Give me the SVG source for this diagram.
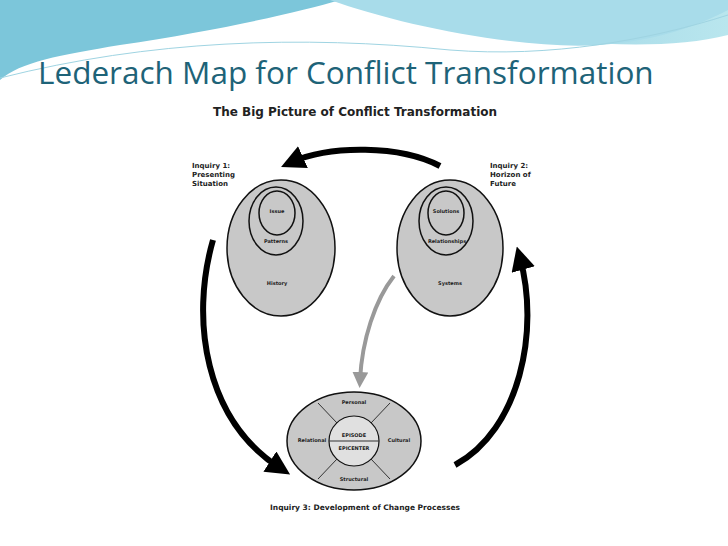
<svg xmlns="http://www.w3.org/2000/svg" width="728" height="546" viewBox="0 0 728 546">
<defs>
<linearGradient id="wave" x1="0" y1="0" x2="1" y2="0"><stop offset="0" stop-color="#6fc0d6"/><stop offset="0.5" stop-color="#8fcbe0"/><stop offset="1" stop-color="#b9e6ee"/></linearGradient>
<marker id="ah" viewBox="0 0 10 10" refX="5" refY="5" markerWidth="4" markerHeight="4" orient="auto"><path d="M0,0 L10,5 L0,10 Z" fill="#000"/></marker>
<marker id="gh" viewBox="0 0 10 10" refX="5" refY="5" markerWidth="4" markerHeight="4" orient="auto"><path d="M0,0 L10,5 L0,10 Z" fill="#999"/></marker>
</defs>
<style>
.t{font-family:"DejaVu Sans",sans-serif;font-weight:bold;fill:#222}
.s{font-size:5px;text-anchor:middle}
.e{fill:#c8c8c8;stroke:#111;stroke-width:1.5}
.ln{stroke:#333;stroke-width:1;fill:none}
</style>
<rect width="728" height="546" fill="#fff"/>
<path d="M0,0 H728 V35 C650,55 520,40 420,20 C380,12 350,5 330,0 Z" fill="url(#wave)"/>
<path d="M0,0 H340 C300,12 220,30 120,45 C60,55 20,62 0,80 Z" fill="#7cc6da"/>
<path d="M330,0 C400,25 520,50 600,45 C660,40 700,25 728,10 L728,0 Z" fill="#a8dcea"/>
<path d="M0,78 C150,40 300,35 450,50 C550,58 650,40 728,15" fill="none" stroke="#9fd4e2" stroke-width="1"/>
<text x="38" y="84" font-family="'Open Sans','Liberation Sans',sans-serif" font-size="31.5" fill="#1e6378">Lederach Map for Conflict Transformation</text>
<rect x="188" y="98" width="349" height="422" fill="#fff"/>
<text class="t" x="213" y="116" font-size="12">The Big Picture of Conflict Transformation</text>
<g id="inq1">
<text class="t" font-size="7" x="192" y="168">Inquiry 1:</text>
<text class="t" font-size="7" x="192" y="177">Presenting</text>
<text class="t" font-size="7" x="192" y="186">Situation</text>
<ellipse class="e" cx="281" cy="248" rx="54" ry="68"/>
<ellipse class="e" cx="276" cy="221" rx="27" ry="34"/>
<ellipse class="e" cx="277" cy="213" rx="18" ry="22"/>
<text class="t s" x="277" y="213">Issue</text>
<text class="t s" x="276" y="243">Patterns</text>
<text class="t s" x="277" y="285">History</text>
</g>
<g id="inq2">
<text class="t" font-size="7" x="490" y="168">Inquiry 2:</text>
<text class="t" font-size="7" x="490" y="177">Horizon of</text>
<text class="t" font-size="7" x="490" y="186">Future</text>
<ellipse class="e" cx="450" cy="248" rx="53" ry="68"/>
<ellipse class="e" cx="446" cy="221" rx="27" ry="34"/>
<ellipse class="e" cx="446" cy="213" rx="18" ry="22"/>
<text class="t s" x="446" y="213">Solutions</text>
<text class="t s" x="447" y="243">Relationships</text>
<text class="t s" x="450" y="285">Systems</text>
</g>
<g id="inq3">
<ellipse class="e" cx="354" cy="441" rx="67" ry="49"/>
<line class="ln" x1="337" y1="423" x2="318" y2="403"/>
<line class="ln" x1="371" y1="423" x2="390" y2="403"/>
<line class="ln" x1="337" y1="459" x2="318" y2="479"/>
<line class="ln" x1="371" y1="459" x2="390" y2="479"/>
<circle cx="354" cy="441" r="25" fill="#e0e0e0" stroke="#111" stroke-width="1.2"/>
<line class="ln" x1="329" y1="441" x2="379" y2="441"/>
<text class="t s" x="354" y="404">Personal</text>
<text class="t s" x="312" y="442">Relational</text>
<text class="t s" x="399" y="442">Cultural</text>
<text class="t s" x="354" y="481">Structural</text>
<text class="t s" x="354" y="437" font-weight="normal">EPISODE</text>
<text class="t s" x="354" y="450" font-weight="normal">EPICENTER</text>
<text class="t" font-size="7.5" x="270" y="510">Inquiry 3: Development of Change Processes</text>
</g>
<g id="connectors" fill="none">
<path d="M440,166 C400,145 330,145 292,162" stroke="#000" stroke-width="6" marker-end="url(#ah)"/>
<path d="M213,240 C190,320 205,420 280,468" stroke="#000" stroke-width="6" marker-end="url(#ah)"/>
<path d="M455,465 C520,430 540,330 520,258" stroke="#000" stroke-width="6" marker-end="url(#ah)"/>
<path d="M394,276 C375,300 362,340 360,380" stroke="#999" stroke-width="4" marker-end="url(#gh)"/>
</g>
</svg>
